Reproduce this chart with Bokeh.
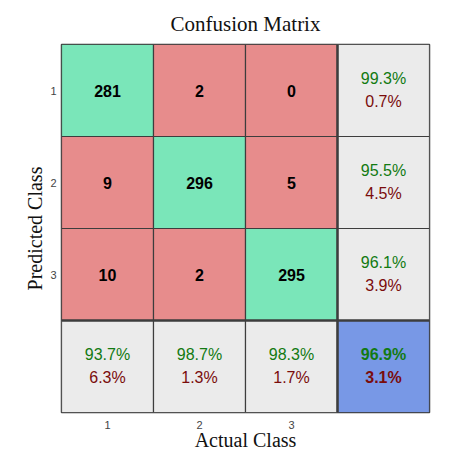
from bokeh.plotting import figure
from bokeh.models import Range1d, FixedTicker, ColumnDataSource
from bokeh.embed import file_html
from bokeh.resources import INLINE
from bokeh.core.properties import value

# ---- data ----
classes = ["1", "2", "3"]
counts = [[281, 2, 0],
          [9, 296, 5],
          [10, 2, 295]]          # rows: predicted, cols: actual
row_correct = ["99.3%", "95.5%", "96.1%"]
row_wrong = ["0.7%", "4.5%", "3.9%"]
col_correct = ["93.7%", "98.7%", "98.3%"]
col_wrong = ["6.3%", "1.3%", "1.7%"]
total_correct = "96.9%"
total_wrong = "3.1%"

GREEN = "#7ae6b9"
RED = "#e78c8c"
GRAY = "#ebebeb"
BLUE = "#7898e6"
TXT_G = "#127a12"
TXT_R = "#7a0c0c"
EDGE = "#3d3d3d"

p = figure(width=474, height=474, output_backend="svg", toolbar_location=None,
           x_range=Range1d(0, 4), y_range=Range1d(4, 0),
           min_border_left=61, min_border_right=45, min_border_top=44, min_border_bottom=62,
           title="Confusion Matrix")
p.title.align = "center"
p.title.text_font = "Liberation Serif"
p.title.text_font_size = "21px"
p.title.text_font_style = "normal"
p.title.text_color = "#111111"
p.title.standoff = 17

# cells
xs, ys, cols = [], [], []
for i in range(3):
    for j in range(3):
        xs.append(j + 0.5); ys.append(i + 0.5)
        cols.append(GREEN if i == j else RED)
for i in range(3):
    xs.append(3.5); ys.append(i + 0.5); cols.append(GRAY)
for j in range(3):
    xs.append(j + 0.5); ys.append(3.5); cols.append(GRAY)
xs.append(3.5); ys.append(3.5); cols.append(BLUE)
p.rect(x=xs, y=ys, width=1, height=1, fill_color=cols, line_color=EDGE, line_width=1.2)

# thick separators
p.segment(x0=[3, 0], y0=[0, 3], x1=[3, 4], y1=[4, 3], line_color=EDGE, line_width=2.5)

# count labels
cx, cy, ct = [], [], []
for i in range(3):
    for j in range(3):
        cx.append(j + 0.5); cy.append(i + 0.5); ct.append(str(counts[i][j]))
p.text(x=cx, y=cy, text=ct, text_font=value("Liberation Sans"), text_font_style="bold",
       text_font_size="16px", text_align="center", text_baseline="middle", text_color="#000000")

# summary labels
gx = [3.5, 3.5, 3.5, 0.5, 1.5, 2.5, 3.5]
gy = [0.5, 1.5, 2.5, 3.5, 3.5, 3.5, 3.5]
gtxt = row_correct + col_correct + [total_correct]
wtxt = row_wrong + col_wrong + [total_wrong]
styles = ["normal"] * 6 + ["bold"]
src = ColumnDataSource(dict(x=gx, y=[v - 0.13 for v in gy], t=gtxt, s=styles))
src2 = ColumnDataSource(dict(x=gx, y=[v + 0.12 for v in gy], t=wtxt, s=styles))
p.text(x="x", y="y", text="t", source=src, text_font=value("Liberation Sans"),
       text_font_style="s", text_font_size="16px", text_align="center",
       text_baseline="middle", text_color=TXT_G)
p.text(x="x", y="y", text="t", source=src2, text_font=value("Liberation Sans"),
       text_font_style="s", text_font_size="16px", text_align="center",
       text_baseline="middle", text_color=TXT_R)

# axes
ticks = [0.5, 1.5, 2.5]
over = {0.5: classes[0], 1.5: classes[1], 2.5: classes[2]}
for ax in (p.xaxis[0], p.yaxis[0]):
    ax.ticker = FixedTicker(ticks=ticks)
    ax.major_label_overrides = over
    ax.axis_line_color = None
    ax.major_tick_line_color = None
    ax.minor_tick_line_color = None
    ax.major_tick_out = 0
    ax.major_tick_in = 0
    ax.minor_tick_out = 0
    ax.minor_tick_in = 0
    ax.major_label_text_font = "Liberation Sans"
    ax.major_label_text_font_size = "11px"
    ax.major_label_text_color = "#444444"
    ax.axis_label_text_font = "Liberation Serif"
    ax.axis_label_text_font_size = "20px"
    ax.axis_label_text_font_style = "normal"
    ax.axis_label_text_color = "#111111"
p.xaxis.axis_label = "Actual Class"
p.yaxis.axis_label = "Predicted Class"
p.xaxis.major_label_standoff = 8
p.xaxis.axis_label_standoff = -3
p.yaxis.major_label_standoff = 5
p.yaxis.axis_label_standoff = 1
p.yaxis.major_label_orientation = "horizontal"

p.xgrid.visible = False
p.ygrid.visible = False
p.outline_line_color = EDGE
p.outline_line_width = 1.5
p.background_fill_color = "white"
p.border_fill_color = "white"

open("out.html", "w").write(file_html(p, INLINE))
